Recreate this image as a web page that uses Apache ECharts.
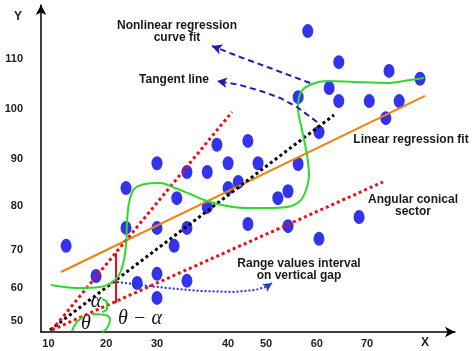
<!DOCTYPE html>
<html>
<head>
<meta charset="utf-8">
<script src="https://cdn.jsdelivr.net/npm/echarts@6/dist/echarts.min.js"></script>
<style>
  html, body { margin: 0; padding: 0; background: #fff; }
  #chart { width: 474px; height: 351px; }
</style>
</head>
<body>
<div id="chart"></div>
<script>
// tick labels (the picture places them unevenly, so each has its own spot on the axis)
var xTickLabels = ['10', '20', '30', '40', '50', '60', '70']
var xTickAt = [10.4, 21.2, 30.7, 44.0, 51.1, 60.6, 70.0]
var yTickLabels = ['50', '60', '70', '80', '90', '100', '110']
var yTickAt = [50.0, 57.6, 66.3, 76.3, 87.1, 98.5, 109.9]

// observed points
var ptsX = [13.7, 19.3, 24.9, 24.9, 27.0, 30.7, 30.7, 30.7, 30.7, 33.9,
  34.4, 36.3, 36.3, 36.3, 40.1, 40.1, 41.9, 44.0, 44.0, 45.9,
  47.7, 47.7, 49.6, 53.3, 55.2, 55.2, 57.1, 57.1, 58.9, 61.0,
  61.0, 62.9, 64.7, 64.7, 68.5, 70.4, 73.5, 74.1, 76.0, 79.9]
var ptsY = [67.2, 60.3, 80.4, 71.3, 58.7, 86.1, 71.3, 60.8, 55.3, 67.2,
  78.1, 84.1, 71.3, 59.2, 84.1, 76.1, 90.3, 86.1, 80.4, 81.8,
  91.2, 72.2, 86.1, 78.1, 79.7, 71.7, 101.2, 85.9, 116.3, 93.2,
  68.8, 103.3, 109.2, 100.3, 73.8, 100.3, 96.4, 107.2, 100.3, 105.4]

// fitted lines
var linearFit = [[12.74, 61.22], [80.83, 101.47]]
var tangentLine = [[10.68, 47.96], [63.81, 97.12]]
var coneUpper = [[11.06, 47.96], [44.73, 97.81]]
var coneLower = [[11.06, 47.96], [72.97, 81.8]]
var verticalGap = [[23.03, 54.13], [23.03, 65.56]]

// nonlinear curve
var curveX = [10.87, 15.73, 20.04, 22.84, 24.15, 24.9, 25.09, 25.46, 26.4, 28.45,
  31.26, 34.07, 36.87, 40.05, 43.79, 47.53, 51.27, 55.02, 57.45, 58.57,
  59.13, 58.76, 57.82, 57.07, 57.63, 59.69, 62.5, 67.55, 73.72, 78.02, 80.64]
var curveY = [58.25, 57.56, 57.79, 59.39, 62.13, 67.39, 72.65, 77.0, 80.2, 81.34,
  81.57, 80.43, 79.06, 77.45, 76.31, 75.85, 75.85, 76.08, 77.45, 79.97,
  83.4, 87.97, 93.69, 98.72, 102.38, 104.21, 104.89, 104.67, 104.44, 105.12, 105.58]

// annotation arrows (tip last)
var arrowCurveFit = [[59.32, 104.44], [51.84, 107.87], [46.22, 110.38], [40.99, 112.9]]
var arrowTangent = [[60.63, 95.52], [56.89, 98.95], [53.71, 101.01], [50.71, 102.38], [46.22, 103.98], [41.92, 104.89]]
var arrowRange = [[23.22, 58.93], [27.52, 58.25], [32.57, 57.56], [38.74, 56.88], [44.91, 56.65], [49.03, 57.1], [51.09, 57.79], [52.21, 58.7]]

// little angle arcs
var arcAlpha = [[20.41, 55.05], [21.35, 54.13], [21.35, 52.99], [20.41, 52.07]]
var arcThetaL = [[14.8, 47.73], [15.73, 49.79], [16.86, 50.93]]
var arcThetaR = [[18.54, 51.62], [20.97, 51.39], [21.91, 50.24], [21.35, 48.41], [20.41, 47.5]]

var textFont = 'bold 12px "Liberation Sans", Arial, sans-serif'
var greekFont = 'italic 20px "Liberation Serif", "DejaVu Serif", serif'

function zip (xs, ys) {
  return xs.map(function (x, i) { return [x, ys[i]] })
}

function plainLine (data, color, width, type, smooth) {
  return {
    type: 'line',
    data: data,
    smooth: smooth || false,
    symbol: 'none',
    silent: true,
    z: 3,
    lineStyle: { color: color, width: width, type: type || 'solid' }
  }
}

// arrow line: arrowhead on the last point, rotated by hand
function arrowLine (data, color, width, dash, rotate, size) {
  var pts = data.map(function (p, i) {
    if (i === data.length - 1) {
      return { value: p, symbol: 'arrow', symbolSize: size, symbolRotate: rotate, itemStyle: { color: color } }
    }
    return { value: p, symbol: 'none' }
  })
  return {
    type: 'line',
    data: pts,
    silent: true,
    showSymbol: true,
    z: 4,
    lineStyle: { color: color, width: width, type: dash }
  }
}

function findLabel (labels, at, v) {
  var i = at.indexOf(v)
  return i < 0 ? '' : labels[i]
}

var chartDom = document.getElementById('chart')
var myChart = echarts.init(chartDom, null, { renderer: 'canvas' })

var option = {
  backgroundColor: '#fff',
  animation: false,
  grid: { left: 41, right: 19, top: 5, bottom: 19, containLabel: false },
  xAxis: {
    type: 'value',
    min: 9,
    max: 86.44,
    splitLine: { show: false },
    axisTick: { show: false },
    axisLine: {
      lineStyle: { color: '#000', width: 1.5 },
      symbol: ['none', 'arrow'],
      symbolSize: [8, 10]
    },
    axisLabel: {
      customValues: xTickAt,
      formatter: function (v) { return findLabel(xTickLabels, xTickAt, v) },
      margin: 6,
      color: '#222',
      fontWeight: 'bold',
      fontSize: 11,
      fontFamily: '"Liberation Sans", Arial, sans-serif'
    }
  },
  yAxis: {
    type: 'value',
    min: 47.5,
    max: 122.27,
    splitLine: { show: false },
    axisTick: { show: false },
    axisLine: {
      lineStyle: { color: '#000', width: 1.5 },
      symbol: ['none', 'arrow'],
      symbolSize: [8, 10]
    },
    axisLabel: {
      customValues: yTickAt,
      formatter: function (v) { return findLabel(yTickLabels, yTickAt, v) },
      margin: 18,
      color: '#222',
      fontWeight: 'bold',
      fontSize: 11,
      fontFamily: '"Liberation Sans", Arial, sans-serif'
    }
  },
  series: [
    {
      type: 'scatter',
      data: zip(ptsX, ptsY),
      symbol: 'circle',
      symbolSize: [11, 14],
      itemStyle: { color: '#0000e6' },
      z: 2
    },
    plainLine(linearFit, '#f0820f', 2),
    plainLine(tangentLine, '#000', 3, [3, 3]),
    plainLine(coneUpper, '#e8101c', 3, [3, 3]),
    plainLine(coneLower, '#e8101c', 3, [3, 3]),
    plainLine(verticalGap, '#e8101c', 2),
    plainLine(zip(curveX, curveY), '#2ed82e', 2, 'solid', 0.35),
    plainLine(arcAlpha, '#2ed82e', 2, 'solid', true),
    plainLine(arcThetaL, '#2ed82e', 2, 'solid', true),
    plainLine(arcThetaR, '#2ed82e', 2, 'solid', true),
    arrowLine(arrowCurveFit, '#1c1cb0', 2, [6, 4], 69, [8, 10]),
    arrowLine(arrowTangent, '#1c1cb0', 2, [6, 4], 80, [8, 10]),
    arrowLine(arrowRange, '#2233cc', 2, [2, 2], -56, [7, 9])
  ],
  graphic: [
    { type: 'text', x: 18, y: 17, style: { text: 'Y', font: textFont, fill: '#222', align: 'center', verticalAlign: 'middle' } },
    { type: 'text', x: 425, y: 343, style: { text: 'X', font: textFont, fill: '#222', align: 'center', verticalAlign: 'middle' } },
    { type: 'text', x: 177, y: 32, style: { text: 'Nonlinear regression\ncurve fit', font: textFont, lineHeight: 12, fill: '#1a1a1a', align: 'center', verticalAlign: 'middle' } },
    { type: 'text', x: 174, y: 80, style: { text: 'Tangent line', font: textFont, fill: '#1a1a1a', align: 'center', verticalAlign: 'middle' } },
    { type: 'text', x: 411, y: 140, style: { text: 'Linear regression fit', font: textFont, fill: '#1a1a1a', align: 'center', verticalAlign: 'middle' } },
    { type: 'text', x: 413, y: 206, style: { text: 'Angular conical\nsector', font: textFont, lineHeight: 12, fill: '#1a1a1a', align: 'center', verticalAlign: 'middle' } },
    { type: 'text', x: 299, y: 270, style: { text: 'Range values interval\non vertical gap', font: textFont, lineHeight: 12, fill: '#1a1a1a', align: 'center', verticalAlign: 'middle' } },
    // greek letters
    { type: 'text', x: 96, y: 302, style: { text: 'α', font: greekFont, fill: '#111', align: 'center', verticalAlign: 'middle' } },
    { type: 'text', x: 86, y: 324, style: { text: 'θ', font: greekFont, fill: '#111', align: 'center', verticalAlign: 'middle' } },
    { type: 'text', x: 140, y: 319, style: { text: 'θ − α', font: greekFont, fill: '#111', align: 'center', verticalAlign: 'middle' } }
  ]
}

myChart.setOption(option)
</script>
</body>
</html>
